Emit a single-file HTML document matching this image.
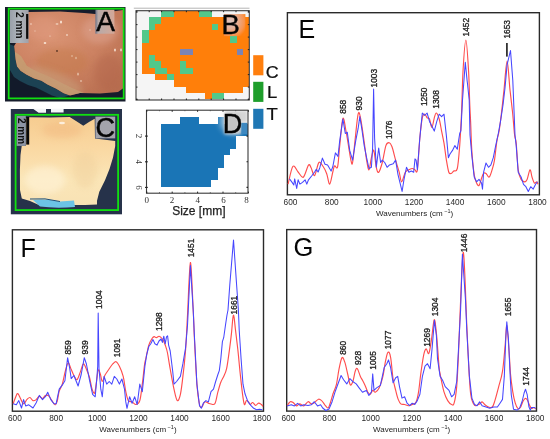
<!DOCTYPE html>
<html><head><meta charset="utf-8"><title>Figure</title>
<style>html,body{margin:0;padding:0;background:#fff;width:550px;height:439px;overflow:hidden}svg{display:block}</style>
</head><body>
<svg width="550" height="439" viewBox="0 0 550 439">
<defs>
<radialGradient id="gA" cx="0.35" cy="0.3" r="0.85">
 <stop offset="0" stop-color="#da9474"/>
 <stop offset="0.5" stop-color="#cc8262"/>
 <stop offset="1" stop-color="#b86e50"/>
</radialGradient>
<linearGradient id="gLabA" x1="0" y1="0" x2="1" y2="0">
 <stop offset="0" stop-color="#9aa0aa"/>
 <stop offset="0.5" stop-color="#b0b6bc"/>
 <stop offset="1" stop-color="#a0a0a8"/>
</linearGradient>
<linearGradient id="gLabA2" x1="0" y1="0" x2="1" y2="0">
 <stop offset="0" stop-color="#6a7288"/>
 <stop offset="0.15" stop-color="#b8aaa8"/>
 <stop offset="1" stop-color="#d4a898"/>
</linearGradient>
<linearGradient id="gC" x1="0" y1="0" x2="0" y2="1">
 <stop offset="0" stop-color="#f6cc90"/>
 <stop offset="0.35" stop-color="#fad8a2"/>
 <stop offset="0.7" stop-color="#fbe6b8"/>
 <stop offset="1" stop-color="#f8e2b4"/>
</linearGradient>
<radialGradient id="gB" cx="0.3" cy="0.35" r="0.8">
 <stop offset="0" stop-color="#dcc6c0"/>
 <stop offset="0.4" stop-color="#e6b098"/>
 <stop offset="0.8" stop-color="#f89450"/>
 <stop offset="1" stop-color="#ff8010"/>
</radialGradient>
<filter id="blur15" x="-30%" y="-30%" width="160%" height="160%"><feGaussianBlur stdDeviation="1.5"/></filter>
<filter id="blur3" x="-50%" y="-50%" width="200%" height="200%"><feGaussianBlur stdDeviation="3"/></filter>
<filter id="blur08" x="-10%" y="-10%" width="120%" height="120%"><feGaussianBlur stdDeviation="0.7"/></filter>
<clipPath id="clipTA"><path d="M28,12 L60,11.5 L84,13 L95,14 L123,10 L123.5,88 L118,92 L100,93.5 L80,93 L70,95.5 L63.6,93.3 L56.2,88.8 L47.4,84.4 L41.4,80.7 L34,78.5 L26.6,74.8 L20.7,71.1 L17,66.6 L15.5,59.2 L14.8,51.8 L14.1,45.9 L16,43 L28,42 Z"/></clipPath>
<clipPath id="clipTC"><path d="M28.5,117.2 L50,117.5 L69.7,117 L76,121 L83.3,125.7 L89,122 L94.7,118.8 L95,138.4 L115.2,141 L115.2,146 L113,157.6 L109.5,169 L105,180.3 L99.3,191.7 L97,200.8 L97,204.5 L85,205 L60,205 L37.8,204.5 L30,201 L21.8,198.6 L20,190 L19.9,170 L20.5,155 L21.7,146 L25.8,146 L25.8,118 Z"/></clipPath>
<clipPath id="clipD"><rect x="146.5" y="110.6" width="101.2" height="82.6"/></clipPath>
<radialGradient id="gBglow" cx="0.5" cy="0.5" r="0.5">
 <stop offset="0" stop-color="#ffffff" stop-opacity="0.35"/>
 <stop offset="1" stop-color="#ffffff" stop-opacity="0"/>
</radialGradient>
<radialGradient id="gDglow" cx="0.5" cy="0.5" r="0.5">
 <stop offset="0" stop-color="#d8d8d8" stop-opacity="1"/>
 <stop offset="0.5" stop-color="#dcdcdc" stop-opacity="0.85"/>
 <stop offset="1" stop-color="#e0e0e0" stop-opacity="0"/>
</radialGradient>
</defs>
<g id="photoA">
<rect x="5" y="7" width="120.5" height="94.5" fill="#161c2c"/>
<path d="M8,40 L14.1,45.9 L14.8,51.8 L15.5,59.2 L17,66.6 L20.7,71.1 L26.6,74.8 L34,78.5 L41.4,80.7 L47.4,84.4 L56.2,88.8 L63.6,93.3 L70,95.5 L70,99 L8,99 Z" fill="#121a2a"/>
<path d="M9,44 L14.1,45.9 L14.8,51.8 L15.5,59.2 L17,66.6 L20.7,71.1 L26.6,74.8 L34,78.5 L41.4,80.7 L47.4,84.4 L56.2,88.8 L63.6,93.3 L70,95.5 L60,98 L52,95.5 L43,91 L36,87.5 L28,85 L20,81 L14,77 L10,70 L9,62 Z" fill="#1c4252" filter="url(#blur08)"/>
<path d="M28,12 L60,11.5 L84,13 L95,14 L123,10 L123.5,88 L118,92 L100,93.5 L80,93 L70,95.5 L63.6,93.3 L56.2,88.8 L47.4,84.4 L41.4,80.7 L34,78.5 L26.6,74.8 L20.7,71.1 L17,66.6 L15.5,59.2 L14.8,51.8 L14.1,45.9 L16,43 L28,42 Z" fill="url(#gA)"/>
<g clip-path="url(#clipTA)">
<path d="M14.8,51.8 L15.5,59.2 L17,66.6 L20.7,71.1 L26.6,74.8 L34,78.5 L41.4,80.7 L47.4,84.4 L56.2,88.8 L63.6,93.3 L70,95.5 L84,93 L72,88 L60,82 L48,76 L36,71 L27,66 L21,56 Z" fill="#c4a878" opacity="0.65" filter="url(#blur08)"/>
<ellipse cx="31" cy="24" rx="1.2" ry="0.8" fill="#fff4e8" opacity="0.85"/>
<ellipse cx="57" cy="24" rx="1.5" ry="0.7" fill="#fff4e8" opacity="0.85"/>
<ellipse cx="61" cy="22" rx="1" ry="1.5" fill="#fff4e8" opacity="0.85"/>
<ellipse cx="45" cy="43" rx="1.3" ry="0.9" fill="#fff4e8" opacity="0.85"/>
<ellipse cx="50" cy="36" rx="0.8" ry="0.6" fill="#fff4e8" opacity="0.85"/>
<ellipse cx="67" cy="35" rx="1" ry="0.7" fill="#fff4e8" opacity="0.85"/>
<ellipse cx="72" cy="56" rx="1.2" ry="0.8" fill="#fff4e8" opacity="0.85"/>
<ellipse cx="76" cy="58" rx="0.8" ry="1.2" fill="#fff4e8" opacity="0.85"/>
<ellipse cx="115" cy="50" rx="0.9" ry="1.6" fill="#fff4e8" opacity="0.85"/>
<ellipse cx="121" cy="50" rx="0.8" ry="1.4" fill="#fff4e8" opacity="0.85"/>
<ellipse cx="78" cy="74" rx="0.7" ry="1.6" fill="#fff4e8" opacity="0.85"/>
<ellipse cx="81" cy="81" rx="0.8" ry="0.8" fill="#fff4e8" opacity="0.85"/>
<ellipse cx="35" cy="31" rx="0.7" ry="0.7" fill="#fff4e8" opacity="0.85"/>
<ellipse cx="90" cy="30" rx="0.8" ry="0.8" fill="#fff4e8" opacity="0.85"/>
<circle cx="57" cy="51" r="0.9" fill="#201010"/>
<ellipse cx="42" cy="28" rx="16" ry="12" fill="#e09a80" opacity="0.5" filter="url(#blur3)"/>
<ellipse cx="100" cy="30" rx="18" ry="14" fill="#dca08c" opacity="0.6" filter="url(#blur3)"/>
<ellipse cx="108" cy="72" rx="14" ry="18" fill="#b06448" opacity="0.4" filter="url(#blur3)"/>
<ellipse cx="62" cy="62" rx="26" ry="14" fill="#c47a48" opacity="0.45" filter="url(#blur3)"/>
<ellipse cx="55" cy="80" rx="30" ry="8" fill="#c89c78" opacity="0.6" filter="url(#blur3)" transform="rotate(22 55 80)"/>
</g>
<rect x="10" y="10" width="18.6" height="33" fill="url(#gLabA)"/>
<rect x="26.1" y="14" width="2.2" height="24.8" fill="#0a0a0a"/>
<text transform="translate(16,12) rotate(90)" font-family="'Liberation Sans', sans-serif" font-size="10.2" font-weight="bold" fill="#111">2 mm</text>
<rect x="95.4" y="9.7" width="19" height="24" fill="url(#gLabA2)"/>
<text x="96.3" y="31" font-family="'Liberation Sans', sans-serif" font-size="28" fill="#050505" stroke="#050505" stroke-width="0.5">A</text>
<rect x="8.7" y="8.6" width="115" height="89.8" fill="none" stroke="#10e010" stroke-width="1.8"/>
</g>
<g id="photoC">
<rect x="10.8" y="109" width="111.2" height="105.3" fill="#26324a"/>
<path d="M28.5,117.2 L50,117.5 L69.7,117 L76,121 L83.3,125.7 L89,122 L94.7,118.8 L95,138.4 L115.2,141 L115.2,146 L113,157.6 L109.5,169 L105,180.3 L99.3,191.7 L97,200.8 L97,204.5 L85,205 L60,205 L37.8,204.5 L30,201 L21.8,198.6 L20,190 L19.9,170 L20.5,155 L21.7,146 L25.8,146 L25.8,118 Z" fill="url(#gC)"/>
<g clip-path="url(#clipTC)"><ellipse cx="62" cy="130" rx="20" ry="8" fill="#f2b880" opacity="0.5" filter="url(#blur3)"/>
<ellipse cx="45" cy="180" rx="20" ry="14" fill="#fff4dc" opacity="0.55" filter="url(#blur3)"/>
<ellipse cx="85" cy="170" rx="12" ry="18" fill="#f0d09c" opacity="0.5" filter="url(#blur3)"/>
<ellipse cx="62" cy="123" rx="3" ry="1.2" fill="#fff8f0" opacity="0.8"/></g>
<path d="M33,200 Q45,198.5 60,201.5 L74,200.5 L75,207 Q55,208.5 40,206.5 Z" fill="#6cc4e6"/>
<path d="M30,199 Q45,197.5 60,201.5" stroke="#1e4f7a" stroke-width="1" fill="none"/>
<rect x="16.5" y="115.9" width="9.3" height="30" fill="#8c94a4"/>
<rect x="26.2" y="117" width="3" height="27.6" fill="#080808"/>
<text transform="translate(17.6,118) rotate(90)" font-family="'Liberation Sans', sans-serif" font-size="10" font-weight="bold" fill="#111">2 mm</text>
<rect x="95.4" y="116.6" width="19.8" height="21.8" fill="#a4a4ac"/>
<text x="95.5" y="137.2" font-family="'Liberation Sans', sans-serif" font-size="27" fill="#050505" stroke="#050505" stroke-width="0.5">C</text>
<path d="M33,108.8 L38.6,112.7 L46,112.7 L46,108.8 Z M51,108.8 H63.6 V112.4 H51 Z" fill="#f4f6f8"/>
<rect x="15.6" y="114.8" width="102.5" height="95.3" fill="none" stroke="#10e010" stroke-width="1.8"/>
</g>
<g id="mapB">
<rect x="136" y="10.7" width="113.3" height="89.3" fill="#f5f5f5"/>
<rect x="161.10" y="11.00" width="6.3" height="6.3" fill="#52c88a" shape-rendering="crispEdges"/>
<rect x="167.40" y="11.00" width="6.3" height="6.3" fill="#52c88a" shape-rendering="crispEdges"/>
<rect x="173.70" y="11.00" width="6.3" height="6.3" fill="#ff7f0a" shape-rendering="crispEdges"/>
<rect x="180.00" y="11.00" width="6.3" height="6.3" fill="#ff7f0a" shape-rendering="crispEdges"/>
<rect x="186.30" y="11.00" width="6.3" height="6.3" fill="#ff7f0a" shape-rendering="crispEdges"/>
<rect x="192.60" y="11.00" width="6.3" height="6.3" fill="#ff7f0a" shape-rendering="crispEdges"/>
<rect x="198.90" y="11.00" width="6.3" height="6.3" fill="#52c88a" shape-rendering="crispEdges"/>
<rect x="205.20" y="11.00" width="6.3" height="6.3" fill="#52c88a" shape-rendering="crispEdges"/>
<rect x="148.50" y="17.30" width="6.3" height="6.3" fill="#52c88a" shape-rendering="crispEdges"/>
<rect x="154.80" y="17.30" width="6.3" height="6.3" fill="#52c88a" shape-rendering="crispEdges"/>
<rect x="161.10" y="17.30" width="6.3" height="6.3" fill="#ff7f0a" shape-rendering="crispEdges"/>
<rect x="167.40" y="17.30" width="6.3" height="6.3" fill="#ff7f0a" shape-rendering="crispEdges"/>
<rect x="173.70" y="17.30" width="6.3" height="6.3" fill="#ff7f0a" shape-rendering="crispEdges"/>
<rect x="180.00" y="17.30" width="6.3" height="6.3" fill="#ff7f0a" shape-rendering="crispEdges"/>
<rect x="186.30" y="17.30" width="6.3" height="6.3" fill="#ff7f0a" shape-rendering="crispEdges"/>
<rect x="192.60" y="17.30" width="6.3" height="6.3" fill="#ff7f0a" shape-rendering="crispEdges"/>
<rect x="198.90" y="17.30" width="6.3" height="6.3" fill="#ff7f0a" shape-rendering="crispEdges"/>
<rect x="205.20" y="17.30" width="6.3" height="6.3" fill="#ff7f0a" shape-rendering="crispEdges"/>
<rect x="211.50" y="17.30" width="6.3" height="6.3" fill="#ff7f0a" shape-rendering="crispEdges"/>
<rect x="217.80" y="17.30" width="6.3" height="6.3" fill="#ff7f0a" shape-rendering="crispEdges"/>
<rect x="224.10" y="17.30" width="6.3" height="6.3" fill="#ff7f0a" shape-rendering="crispEdges"/>
<rect x="230.40" y="17.30" width="6.3" height="6.3" fill="#ff7f0a" shape-rendering="crispEdges"/>
<rect x="236.70" y="17.30" width="6.3" height="6.3" fill="#ff7f0a" shape-rendering="crispEdges"/>
<rect x="243.00" y="17.30" width="6.3" height="6.3" fill="#ff7f0a" shape-rendering="crispEdges"/>
<rect x="148.50" y="23.60" width="6.3" height="6.3" fill="#52c88a" shape-rendering="crispEdges"/>
<rect x="154.80" y="23.60" width="6.3" height="6.3" fill="#ff7f0a" shape-rendering="crispEdges"/>
<rect x="161.10" y="23.60" width="6.3" height="6.3" fill="#ff7f0a" shape-rendering="crispEdges"/>
<rect x="167.40" y="23.60" width="6.3" height="6.3" fill="#ff7f0a" shape-rendering="crispEdges"/>
<rect x="173.70" y="23.60" width="6.3" height="6.3" fill="#ff7f0a" shape-rendering="crispEdges"/>
<rect x="180.00" y="23.60" width="6.3" height="6.3" fill="#ff7f0a" shape-rendering="crispEdges"/>
<rect x="186.30" y="23.60" width="6.3" height="6.3" fill="#ff7f0a" shape-rendering="crispEdges"/>
<rect x="192.60" y="23.60" width="6.3" height="6.3" fill="#ff7f0a" shape-rendering="crispEdges"/>
<rect x="198.90" y="23.60" width="6.3" height="6.3" fill="#ff7f0a" shape-rendering="crispEdges"/>
<rect x="205.20" y="23.60" width="6.3" height="6.3" fill="#ff7f0a" shape-rendering="crispEdges"/>
<rect x="211.50" y="23.60" width="6.3" height="6.3" fill="#52c88a" shape-rendering="crispEdges"/>
<rect x="217.80" y="23.60" width="6.3" height="6.3" fill="#ff7f0a" shape-rendering="crispEdges"/>
<rect x="224.10" y="23.60" width="6.3" height="6.3" fill="#ff7f0a" shape-rendering="crispEdges"/>
<rect x="230.40" y="23.60" width="6.3" height="6.3" fill="#ff7f0a" shape-rendering="crispEdges"/>
<rect x="236.70" y="23.60" width="6.3" height="6.3" fill="#ff7f0a" shape-rendering="crispEdges"/>
<rect x="243.00" y="23.60" width="6.3" height="6.3" fill="#ff7f0a" shape-rendering="crispEdges"/>
<rect x="142.20" y="29.90" width="6.3" height="6.3" fill="#52c88a" shape-rendering="crispEdges"/>
<rect x="148.50" y="29.90" width="6.3" height="6.3" fill="#ff7f0a" shape-rendering="crispEdges"/>
<rect x="154.80" y="29.90" width="6.3" height="6.3" fill="#ff7f0a" shape-rendering="crispEdges"/>
<rect x="161.10" y="29.90" width="6.3" height="6.3" fill="#ff7f0a" shape-rendering="crispEdges"/>
<rect x="167.40" y="29.90" width="6.3" height="6.3" fill="#ff7f0a" shape-rendering="crispEdges"/>
<rect x="173.70" y="29.90" width="6.3" height="6.3" fill="#ff7f0a" shape-rendering="crispEdges"/>
<rect x="180.00" y="29.90" width="6.3" height="6.3" fill="#ff7f0a" shape-rendering="crispEdges"/>
<rect x="186.30" y="29.90" width="6.3" height="6.3" fill="#ff7f0a" shape-rendering="crispEdges"/>
<rect x="192.60" y="29.90" width="6.3" height="6.3" fill="#ff7f0a" shape-rendering="crispEdges"/>
<rect x="198.90" y="29.90" width="6.3" height="6.3" fill="#ff7f0a" shape-rendering="crispEdges"/>
<rect x="205.20" y="29.90" width="6.3" height="6.3" fill="#ff7f0a" shape-rendering="crispEdges"/>
<rect x="211.50" y="29.90" width="6.3" height="6.3" fill="#ff7f0a" shape-rendering="crispEdges"/>
<rect x="217.80" y="29.90" width="6.3" height="6.3" fill="#ff7f0a" shape-rendering="crispEdges"/>
<rect x="224.10" y="29.90" width="6.3" height="6.3" fill="#ff7f0a" shape-rendering="crispEdges"/>
<rect x="230.40" y="29.90" width="6.3" height="6.3" fill="#ff7f0a" shape-rendering="crispEdges"/>
<rect x="236.70" y="29.90" width="6.3" height="6.3" fill="#ff7f0a" shape-rendering="crispEdges"/>
<rect x="243.00" y="29.90" width="6.3" height="6.3" fill="#ff7f0a" shape-rendering="crispEdges"/>
<rect x="142.20" y="36.20" width="6.3" height="6.3" fill="#52c88a" shape-rendering="crispEdges"/>
<rect x="148.50" y="36.20" width="6.3" height="6.3" fill="#ff7f0a" shape-rendering="crispEdges"/>
<rect x="154.80" y="36.20" width="6.3" height="6.3" fill="#ff7f0a" shape-rendering="crispEdges"/>
<rect x="161.10" y="36.20" width="6.3" height="6.3" fill="#ff7f0a" shape-rendering="crispEdges"/>
<rect x="167.40" y="36.20" width="6.3" height="6.3" fill="#ff7f0a" shape-rendering="crispEdges"/>
<rect x="173.70" y="36.20" width="6.3" height="6.3" fill="#ff7f0a" shape-rendering="crispEdges"/>
<rect x="180.00" y="36.20" width="6.3" height="6.3" fill="#ff7f0a" shape-rendering="crispEdges"/>
<rect x="186.30" y="36.20" width="6.3" height="6.3" fill="#ff7f0a" shape-rendering="crispEdges"/>
<rect x="192.60" y="36.20" width="6.3" height="6.3" fill="#ff7f0a" shape-rendering="crispEdges"/>
<rect x="198.90" y="36.20" width="6.3" height="6.3" fill="#ff7f0a" shape-rendering="crispEdges"/>
<rect x="205.20" y="36.20" width="6.3" height="6.3" fill="#ff7f0a" shape-rendering="crispEdges"/>
<rect x="211.50" y="36.20" width="6.3" height="6.3" fill="#ff7f0a" shape-rendering="crispEdges"/>
<rect x="217.80" y="36.20" width="6.3" height="6.3" fill="#ff7f0a" shape-rendering="crispEdges"/>
<rect x="224.10" y="36.20" width="6.3" height="6.3" fill="#ff7f0a" shape-rendering="crispEdges"/>
<rect x="230.40" y="36.20" width="6.3" height="6.3" fill="#52c88a" shape-rendering="crispEdges"/>
<rect x="236.70" y="36.20" width="6.3" height="6.3" fill="#ff7f0a" shape-rendering="crispEdges"/>
<rect x="243.00" y="36.20" width="6.3" height="6.3" fill="#ff7f0a" shape-rendering="crispEdges"/>
<rect x="142.20" y="42.50" width="6.3" height="6.3" fill="#ff7f0a" shape-rendering="crispEdges"/>
<rect x="148.50" y="42.50" width="6.3" height="6.3" fill="#ff7f0a" shape-rendering="crispEdges"/>
<rect x="154.80" y="42.50" width="6.3" height="6.3" fill="#ff7f0a" shape-rendering="crispEdges"/>
<rect x="161.10" y="42.50" width="6.3" height="6.3" fill="#ff7f0a" shape-rendering="crispEdges"/>
<rect x="167.40" y="42.50" width="6.3" height="6.3" fill="#ff7f0a" shape-rendering="crispEdges"/>
<rect x="173.70" y="42.50" width="6.3" height="6.3" fill="#ff7f0a" shape-rendering="crispEdges"/>
<rect x="180.00" y="42.50" width="6.3" height="6.3" fill="#ff7f0a" shape-rendering="crispEdges"/>
<rect x="186.30" y="42.50" width="6.3" height="6.3" fill="#ff7f0a" shape-rendering="crispEdges"/>
<rect x="192.60" y="42.50" width="6.3" height="6.3" fill="#ff7f0a" shape-rendering="crispEdges"/>
<rect x="198.90" y="42.50" width="6.3" height="6.3" fill="#ff7f0a" shape-rendering="crispEdges"/>
<rect x="205.20" y="42.50" width="6.3" height="6.3" fill="#ff7f0a" shape-rendering="crispEdges"/>
<rect x="211.50" y="42.50" width="6.3" height="6.3" fill="#ff7f0a" shape-rendering="crispEdges"/>
<rect x="217.80" y="42.50" width="6.3" height="6.3" fill="#ff7f0a" shape-rendering="crispEdges"/>
<rect x="224.10" y="42.50" width="6.3" height="6.3" fill="#ff7f0a" shape-rendering="crispEdges"/>
<rect x="230.40" y="42.50" width="6.3" height="6.3" fill="#ff7f0a" shape-rendering="crispEdges"/>
<rect x="236.70" y="42.50" width="6.3" height="6.3" fill="#ff7f0a" shape-rendering="crispEdges"/>
<rect x="243.00" y="42.50" width="6.3" height="6.3" fill="#ff7f0a" shape-rendering="crispEdges"/>
<rect x="142.20" y="48.80" width="6.3" height="6.3" fill="#ff7f0a" shape-rendering="crispEdges"/>
<rect x="148.50" y="48.80" width="6.3" height="6.3" fill="#ff7f0a" shape-rendering="crispEdges"/>
<rect x="154.80" y="48.80" width="6.3" height="6.3" fill="#ff7f0a" shape-rendering="crispEdges"/>
<rect x="161.10" y="48.80" width="6.3" height="6.3" fill="#ff7f0a" shape-rendering="crispEdges"/>
<rect x="167.40" y="48.80" width="6.3" height="6.3" fill="#ff7f0a" shape-rendering="crispEdges"/>
<rect x="173.70" y="48.80" width="6.3" height="6.3" fill="#ff7f0a" shape-rendering="crispEdges"/>
<rect x="180.00" y="48.80" width="6.3" height="6.3" fill="#7b84b5" shape-rendering="crispEdges"/>
<rect x="186.30" y="48.80" width="6.3" height="6.3" fill="#7b84b5" shape-rendering="crispEdges"/>
<rect x="192.60" y="48.80" width="6.3" height="6.3" fill="#ff7f0a" shape-rendering="crispEdges"/>
<rect x="198.90" y="48.80" width="6.3" height="6.3" fill="#ff7f0a" shape-rendering="crispEdges"/>
<rect x="205.20" y="48.80" width="6.3" height="6.3" fill="#ff7f0a" shape-rendering="crispEdges"/>
<rect x="211.50" y="48.80" width="6.3" height="6.3" fill="#ff7f0a" shape-rendering="crispEdges"/>
<rect x="217.80" y="48.80" width="6.3" height="6.3" fill="#ff7f0a" shape-rendering="crispEdges"/>
<rect x="224.10" y="48.80" width="6.3" height="6.3" fill="#ff7f0a" shape-rendering="crispEdges"/>
<rect x="230.40" y="48.80" width="6.3" height="6.3" fill="#ff7f0a" shape-rendering="crispEdges"/>
<rect x="236.70" y="48.80" width="6.3" height="6.3" fill="#7b84b5" shape-rendering="crispEdges"/>
<rect x="243.00" y="48.80" width="6.3" height="6.3" fill="#ff7f0a" shape-rendering="crispEdges"/>
<rect x="142.20" y="55.10" width="6.3" height="6.3" fill="#ff7f0a" shape-rendering="crispEdges"/>
<rect x="148.50" y="55.10" width="6.3" height="6.3" fill="#52c88a" shape-rendering="crispEdges"/>
<rect x="154.80" y="55.10" width="6.3" height="6.3" fill="#ff7f0a" shape-rendering="crispEdges"/>
<rect x="161.10" y="55.10" width="6.3" height="6.3" fill="#ff7f0a" shape-rendering="crispEdges"/>
<rect x="167.40" y="55.10" width="6.3" height="6.3" fill="#ff7f0a" shape-rendering="crispEdges"/>
<rect x="173.70" y="55.10" width="6.3" height="6.3" fill="#ff7f0a" shape-rendering="crispEdges"/>
<rect x="180.00" y="55.10" width="6.3" height="6.3" fill="#ff7f0a" shape-rendering="crispEdges"/>
<rect x="186.30" y="55.10" width="6.3" height="6.3" fill="#ff7f0a" shape-rendering="crispEdges"/>
<rect x="192.60" y="55.10" width="6.3" height="6.3" fill="#ff7f0a" shape-rendering="crispEdges"/>
<rect x="198.90" y="55.10" width="6.3" height="6.3" fill="#ff7f0a" shape-rendering="crispEdges"/>
<rect x="205.20" y="55.10" width="6.3" height="6.3" fill="#ff7f0a" shape-rendering="crispEdges"/>
<rect x="211.50" y="55.10" width="6.3" height="6.3" fill="#ff7f0a" shape-rendering="crispEdges"/>
<rect x="217.80" y="55.10" width="6.3" height="6.3" fill="#ff7f0a" shape-rendering="crispEdges"/>
<rect x="224.10" y="55.10" width="6.3" height="6.3" fill="#ff7f0a" shape-rendering="crispEdges"/>
<rect x="230.40" y="55.10" width="6.3" height="6.3" fill="#ff7f0a" shape-rendering="crispEdges"/>
<rect x="236.70" y="55.10" width="6.3" height="6.3" fill="#ff7f0a" shape-rendering="crispEdges"/>
<rect x="243.00" y="55.10" width="6.3" height="6.3" fill="#ff7f0a" shape-rendering="crispEdges"/>
<rect x="142.20" y="61.40" width="6.3" height="6.3" fill="#ff7f0a" shape-rendering="crispEdges"/>
<rect x="148.50" y="61.40" width="6.3" height="6.3" fill="#52c88a" shape-rendering="crispEdges"/>
<rect x="154.80" y="61.40" width="6.3" height="6.3" fill="#52c88a" shape-rendering="crispEdges"/>
<rect x="161.10" y="61.40" width="6.3" height="6.3" fill="#ff7f0a" shape-rendering="crispEdges"/>
<rect x="167.40" y="61.40" width="6.3" height="6.3" fill="#ff7f0a" shape-rendering="crispEdges"/>
<rect x="173.70" y="61.40" width="6.3" height="6.3" fill="#ff7f0a" shape-rendering="crispEdges"/>
<rect x="180.00" y="61.40" width="6.3" height="6.3" fill="#52c88a" shape-rendering="crispEdges"/>
<rect x="186.30" y="61.40" width="6.3" height="6.3" fill="#ff7f0a" shape-rendering="crispEdges"/>
<rect x="192.60" y="61.40" width="6.3" height="6.3" fill="#ff7f0a" shape-rendering="crispEdges"/>
<rect x="198.90" y="61.40" width="6.3" height="6.3" fill="#ff7f0a" shape-rendering="crispEdges"/>
<rect x="205.20" y="61.40" width="6.3" height="6.3" fill="#ff7f0a" shape-rendering="crispEdges"/>
<rect x="211.50" y="61.40" width="6.3" height="6.3" fill="#ff7f0a" shape-rendering="crispEdges"/>
<rect x="217.80" y="61.40" width="6.3" height="6.3" fill="#ff7f0a" shape-rendering="crispEdges"/>
<rect x="224.10" y="61.40" width="6.3" height="6.3" fill="#ff7f0a" shape-rendering="crispEdges"/>
<rect x="230.40" y="61.40" width="6.3" height="6.3" fill="#ff7f0a" shape-rendering="crispEdges"/>
<rect x="236.70" y="61.40" width="6.3" height="6.3" fill="#ff7f0a" shape-rendering="crispEdges"/>
<rect x="243.00" y="61.40" width="6.3" height="6.3" fill="#ff7f0a" shape-rendering="crispEdges"/>
<rect x="142.20" y="67.70" width="6.3" height="6.3" fill="#ff7f0a" shape-rendering="crispEdges"/>
<rect x="148.50" y="67.70" width="6.3" height="6.3" fill="#ff7f0a" shape-rendering="crispEdges"/>
<rect x="154.80" y="67.70" width="6.3" height="6.3" fill="#52c88a" shape-rendering="crispEdges"/>
<rect x="161.10" y="67.70" width="6.3" height="6.3" fill="#52c88a" shape-rendering="crispEdges"/>
<rect x="167.40" y="67.70" width="6.3" height="6.3" fill="#ff7f0a" shape-rendering="crispEdges"/>
<rect x="173.70" y="67.70" width="6.3" height="6.3" fill="#ff7f0a" shape-rendering="crispEdges"/>
<rect x="180.00" y="67.70" width="6.3" height="6.3" fill="#52c88a" shape-rendering="crispEdges"/>
<rect x="186.30" y="67.70" width="6.3" height="6.3" fill="#52c88a" shape-rendering="crispEdges"/>
<rect x="192.60" y="67.70" width="6.3" height="6.3" fill="#ff7f0a" shape-rendering="crispEdges"/>
<rect x="198.90" y="67.70" width="6.3" height="6.3" fill="#ff7f0a" shape-rendering="crispEdges"/>
<rect x="205.20" y="67.70" width="6.3" height="6.3" fill="#ff7f0a" shape-rendering="crispEdges"/>
<rect x="211.50" y="67.70" width="6.3" height="6.3" fill="#ff7f0a" shape-rendering="crispEdges"/>
<rect x="217.80" y="67.70" width="6.3" height="6.3" fill="#ff7f0a" shape-rendering="crispEdges"/>
<rect x="224.10" y="67.70" width="6.3" height="6.3" fill="#ff7f0a" shape-rendering="crispEdges"/>
<rect x="230.40" y="67.70" width="6.3" height="6.3" fill="#ff7f0a" shape-rendering="crispEdges"/>
<rect x="236.70" y="67.70" width="6.3" height="6.3" fill="#ff7f0a" shape-rendering="crispEdges"/>
<rect x="243.00" y="67.70" width="6.3" height="6.3" fill="#ff7f0a" shape-rendering="crispEdges"/>
<rect x="154.80" y="74.00" width="6.3" height="6.3" fill="#ff7f0a" shape-rendering="crispEdges"/>
<rect x="161.10" y="74.00" width="6.3" height="6.3" fill="#ff7f0a" shape-rendering="crispEdges"/>
<rect x="167.40" y="74.00" width="6.3" height="6.3" fill="#52c88a" shape-rendering="crispEdges"/>
<rect x="173.70" y="74.00" width="6.3" height="6.3" fill="#ff7f0a" shape-rendering="crispEdges"/>
<rect x="180.00" y="74.00" width="6.3" height="6.3" fill="#ff7f0a" shape-rendering="crispEdges"/>
<rect x="186.30" y="74.00" width="6.3" height="6.3" fill="#ff7f0a" shape-rendering="crispEdges"/>
<rect x="192.60" y="74.00" width="6.3" height="6.3" fill="#ff7f0a" shape-rendering="crispEdges"/>
<rect x="198.90" y="74.00" width="6.3" height="6.3" fill="#ff7f0a" shape-rendering="crispEdges"/>
<rect x="205.20" y="74.00" width="6.3" height="6.3" fill="#ff7f0a" shape-rendering="crispEdges"/>
<rect x="211.50" y="74.00" width="6.3" height="6.3" fill="#ff7f0a" shape-rendering="crispEdges"/>
<rect x="217.80" y="74.00" width="6.3" height="6.3" fill="#ff7f0a" shape-rendering="crispEdges"/>
<rect x="224.10" y="74.00" width="6.3" height="6.3" fill="#ff7f0a" shape-rendering="crispEdges"/>
<rect x="230.40" y="74.00" width="6.3" height="6.3" fill="#ff7f0a" shape-rendering="crispEdges"/>
<rect x="236.70" y="74.00" width="6.3" height="6.3" fill="#ff7f0a" shape-rendering="crispEdges"/>
<rect x="243.00" y="74.00" width="6.3" height="6.3" fill="#ff7f0a" shape-rendering="crispEdges"/>
<rect x="173.70" y="80.30" width="6.3" height="6.3" fill="#ff7f0a" shape-rendering="crispEdges"/>
<rect x="180.00" y="80.30" width="6.3" height="6.3" fill="#ff7f0a" shape-rendering="crispEdges"/>
<rect x="186.30" y="80.30" width="6.3" height="6.3" fill="#ff7f0a" shape-rendering="crispEdges"/>
<rect x="192.60" y="80.30" width="6.3" height="6.3" fill="#ff7f0a" shape-rendering="crispEdges"/>
<rect x="198.90" y="80.30" width="6.3" height="6.3" fill="#ff7f0a" shape-rendering="crispEdges"/>
<rect x="205.20" y="80.30" width="6.3" height="6.3" fill="#ff7f0a" shape-rendering="crispEdges"/>
<rect x="211.50" y="80.30" width="6.3" height="6.3" fill="#ff7f0a" shape-rendering="crispEdges"/>
<rect x="217.80" y="80.30" width="6.3" height="6.3" fill="#ff7f0a" shape-rendering="crispEdges"/>
<rect x="224.10" y="80.30" width="6.3" height="6.3" fill="#ff7f0a" shape-rendering="crispEdges"/>
<rect x="230.40" y="80.30" width="6.3" height="6.3" fill="#ff7f0a" shape-rendering="crispEdges"/>
<rect x="236.70" y="80.30" width="6.3" height="6.3" fill="#ff7f0a" shape-rendering="crispEdges"/>
<rect x="243.00" y="80.30" width="6.3" height="6.3" fill="#ff7f0a" shape-rendering="crispEdges"/>
<rect x="186.30" y="86.60" width="6.3" height="6.3" fill="#ff7f0a" shape-rendering="crispEdges"/>
<rect x="192.60" y="86.60" width="6.3" height="6.3" fill="#ff7f0a" shape-rendering="crispEdges"/>
<rect x="198.90" y="86.60" width="6.3" height="6.3" fill="#ff7f0a" shape-rendering="crispEdges"/>
<rect x="205.20" y="86.60" width="6.3" height="6.3" fill="#ff7f0a" shape-rendering="crispEdges"/>
<rect x="211.50" y="86.60" width="6.3" height="6.3" fill="#ff7f0a" shape-rendering="crispEdges"/>
<rect x="217.80" y="86.60" width="6.3" height="6.3" fill="#ff7f0a" shape-rendering="crispEdges"/>
<rect x="224.10" y="86.60" width="6.3" height="6.3" fill="#ff7f0a" shape-rendering="crispEdges"/>
<rect x="230.40" y="86.60" width="6.3" height="6.3" fill="#ff7f0a" shape-rendering="crispEdges"/>
<rect x="236.70" y="86.60" width="6.3" height="6.3" fill="#ff7f0a" shape-rendering="crispEdges"/>
<rect x="205.20" y="92.90" width="6.3" height="6.3" fill="#ff7f0a" shape-rendering="crispEdges"/>
<rect x="211.50" y="92.90" width="6.3" height="6.3" fill="#52c88a" shape-rendering="crispEdges"/>
<rect x="217.80" y="92.90" width="6.3" height="6.3" fill="#52c88a" shape-rendering="crispEdges"/>
<rect x="224" y="14.1" width="21.4" height="22" fill="url(#gB)"/>
<text x="221.6" y="34" font-family="'Liberation Sans', sans-serif" font-size="27.5" fill="#050505" stroke="#050505" stroke-width="0.4">B</text>
<line x1="133.8" y1="8.2" x2="249.5" y2="8.2" stroke="#b4b4b4" stroke-width="1"/>
<rect x="136" y="10.7" width="113.3" height="89.3" fill="none" stroke="#3a3a3a" stroke-width="1.1"/>
<line x1="136.8" y1="10.7" x2="136.8" y2="12.2" stroke="#222" stroke-width="1"/>
<line x1="136.8" y1="100" x2="136.8" y2="98.5" stroke="#222" stroke-width="1"/>
<line x1="149.2" y1="10.7" x2="149.2" y2="12.2" stroke="#222" stroke-width="1"/>
<line x1="149.2" y1="100" x2="149.2" y2="98.5" stroke="#222" stroke-width="1"/>
<line x1="161.6" y1="10.7" x2="161.6" y2="12.2" stroke="#222" stroke-width="1"/>
<line x1="161.6" y1="100" x2="161.6" y2="98.5" stroke="#222" stroke-width="1"/>
<line x1="174.0" y1="10.7" x2="174.0" y2="12.2" stroke="#222" stroke-width="1"/>
<line x1="174.0" y1="100" x2="174.0" y2="98.5" stroke="#222" stroke-width="1"/>
<line x1="186.4" y1="10.7" x2="186.4" y2="12.2" stroke="#222" stroke-width="1"/>
<line x1="186.4" y1="100" x2="186.4" y2="98.5" stroke="#222" stroke-width="1"/>
<line x1="198.8" y1="10.7" x2="198.8" y2="12.2" stroke="#222" stroke-width="1"/>
<line x1="198.8" y1="100" x2="198.8" y2="98.5" stroke="#222" stroke-width="1"/>
<line x1="211.2" y1="10.7" x2="211.2" y2="12.2" stroke="#222" stroke-width="1"/>
<line x1="211.2" y1="100" x2="211.2" y2="98.5" stroke="#222" stroke-width="1"/>
<line x1="223.6" y1="10.7" x2="223.6" y2="12.2" stroke="#222" stroke-width="1"/>
<line x1="223.6" y1="100" x2="223.6" y2="98.5" stroke="#222" stroke-width="1"/>
<line x1="236.0" y1="10.7" x2="236.0" y2="12.2" stroke="#222" stroke-width="1"/>
<line x1="236.0" y1="100" x2="236.0" y2="98.5" stroke="#222" stroke-width="1"/>
<line x1="248.4" y1="10.7" x2="248.4" y2="12.2" stroke="#222" stroke-width="1"/>
<line x1="248.4" y1="100" x2="248.4" y2="98.5" stroke="#222" stroke-width="1"/>
<line x1="136" y1="12.1" x2="137.5" y2="12.1" stroke="#222" stroke-width="1"/>
<line x1="249.3" y1="12.1" x2="247.8" y2="12.1" stroke="#222" stroke-width="1"/>
<line x1="136" y1="24.6" x2="137.5" y2="24.6" stroke="#222" stroke-width="1"/>
<line x1="249.3" y1="24.6" x2="247.8" y2="24.6" stroke="#222" stroke-width="1"/>
<line x1="136" y1="37.1" x2="137.5" y2="37.1" stroke="#222" stroke-width="1"/>
<line x1="249.3" y1="37.1" x2="247.8" y2="37.1" stroke="#222" stroke-width="1"/>
<line x1="136" y1="49.6" x2="137.5" y2="49.6" stroke="#222" stroke-width="1"/>
<line x1="249.3" y1="49.6" x2="247.8" y2="49.6" stroke="#222" stroke-width="1"/>
<line x1="136" y1="62.1" x2="137.5" y2="62.1" stroke="#222" stroke-width="1"/>
<line x1="249.3" y1="62.1" x2="247.8" y2="62.1" stroke="#222" stroke-width="1"/>
<line x1="136" y1="74.6" x2="137.5" y2="74.6" stroke="#222" stroke-width="1"/>
<line x1="249.3" y1="74.6" x2="247.8" y2="74.6" stroke="#222" stroke-width="1"/>
<line x1="136" y1="87.1" x2="137.5" y2="87.1" stroke="#222" stroke-width="1"/>
<line x1="249.3" y1="87.1" x2="247.8" y2="87.1" stroke="#222" stroke-width="1"/>
<line x1="136" y1="99.6" x2="137.5" y2="99.6" stroke="#222" stroke-width="1"/>
<line x1="249.3" y1="99.6" x2="247.8" y2="99.6" stroke="#222" stroke-width="1"/>
</g>
<g id="legend">
<rect x="253.2" y="55.2" width="10.2" height="20.1" fill="#ff7f0e"/>
<rect x="253.2" y="81.8" width="10.2" height="20.1" fill="#1f9e2c"/>
<rect x="253.2" y="108.8" width="10.2" height="20" fill="#1f77b4"/>
<text transform="translate(265.7,78.4) scale(1.12,1)" font-family="'Liberation Sans', sans-serif" font-size="16" fill="#111" stroke="#111" stroke-width="0.25">C</text>
<text transform="translate(267.1,97.6) scale(1.12,1)" font-family="'Liberation Sans', sans-serif" font-size="16.5" fill="#111" stroke="#111" stroke-width="0.25">L</text>
<text transform="translate(266.5,119.6) scale(1.12,1)" font-family="'Liberation Sans', sans-serif" font-size="16.5" fill="#111" stroke="#111" stroke-width="0.25">T</text>
</g>
<g id="mapD">
<rect x="146.5" y="110.2" width="101.5" height="83" fill="#ffffff"/>
<rect x="179.70" y="117.30" width="18.90" height="6.3" fill="#1a75b6" shape-rendering="crispEdges"/>
<rect x="217.50" y="117.30" width="6.30" height="6.3" fill="#1a75b6" shape-rendering="crispEdges"/>
<rect x="160.80" y="123.60" width="86.80" height="6.3" fill="#1a75b6" shape-rendering="crispEdges"/>
<rect x="160.80" y="129.90" width="86.80" height="6.3" fill="#1a75b6" shape-rendering="crispEdges"/>
<rect x="160.80" y="136.20" width="75.60" height="6.3" fill="#1a75b6" shape-rendering="crispEdges"/>
<rect x="160.80" y="142.50" width="75.60" height="6.3" fill="#1a75b6" shape-rendering="crispEdges"/>
<rect x="160.80" y="148.80" width="69.30" height="6.3" fill="#1a75b6" shape-rendering="crispEdges"/>
<rect x="160.80" y="155.10" width="63.00" height="6.3" fill="#1a75b6" shape-rendering="crispEdges"/>
<rect x="160.80" y="161.40" width="63.00" height="6.3" fill="#1a75b6" shape-rendering="crispEdges"/>
<rect x="160.80" y="167.70" width="56.70" height="6.3" fill="#1a75b6" shape-rendering="crispEdges"/>
<rect x="160.80" y="174.00" width="56.70" height="6.3" fill="#1a75b6" shape-rendering="crispEdges"/>
<rect x="160.80" y="180.30" width="50.40" height="6.3" fill="#1a75b6" shape-rendering="crispEdges"/>
<g clip-path="url(#clipD)">
<ellipse cx="233" cy="121" rx="13" ry="13" fill="#ffffff" opacity="0.55" filter="url(#blur3)"/>
<path d="M224.5,110.6 H247.7 V122.5 H241 V134 H224.5 Z" fill="#d6d6d6" filter="url(#blur15)"/>
<rect x="227" y="114" width="12" height="18" fill="#c4c4c4" filter="url(#blur15)"/>
<rect x="241.4" y="122.8" width="6.3" height="11.2" fill="#3d88c0"/>
</g>
<text x="222.8" y="133.4" font-family="'Liberation Sans', sans-serif" font-size="27" fill="#050505" stroke="#050505" stroke-width="0.5">D</text>
<rect x="146.5" y="110.2" width="101.5" height="83" fill="none" stroke="#3a3a3a" stroke-width="1.1"/>
<line x1="146.8" y1="193.2" x2="146.8" y2="191.6" stroke="#222" stroke-width="1"/>
<line x1="146.8" y1="110.2" x2="146.8" y2="111.8" stroke="#222" stroke-width="1"/>
<line x1="172.2" y1="193.2" x2="172.2" y2="191.6" stroke="#222" stroke-width="1"/>
<line x1="172.2" y1="110.2" x2="172.2" y2="111.8" stroke="#222" stroke-width="1"/>
<line x1="197.6" y1="193.2" x2="197.6" y2="191.6" stroke="#222" stroke-width="1"/>
<line x1="197.6" y1="110.2" x2="197.6" y2="111.8" stroke="#222" stroke-width="1"/>
<line x1="223.0" y1="193.2" x2="223.0" y2="191.6" stroke="#222" stroke-width="1"/>
<line x1="223.0" y1="110.2" x2="223.0" y2="111.8" stroke="#222" stroke-width="1"/>
<line x1="248.4" y1="193.2" x2="248.4" y2="191.6" stroke="#222" stroke-width="1"/>
<line x1="248.4" y1="110.2" x2="248.4" y2="111.8" stroke="#222" stroke-width="1"/>
<line x1="159.5" y1="193.2" x2="159.5" y2="192.2" stroke="#444" stroke-width="0.8"/>
<line x1="159.5" y1="110.2" x2="159.5" y2="111.2" stroke="#444" stroke-width="0.8"/>
<line x1="184.9" y1="193.2" x2="184.9" y2="192.2" stroke="#444" stroke-width="0.8"/>
<line x1="184.9" y1="110.2" x2="184.9" y2="111.2" stroke="#444" stroke-width="0.8"/>
<line x1="210.3" y1="193.2" x2="210.3" y2="192.2" stroke="#444" stroke-width="0.8"/>
<line x1="210.3" y1="110.2" x2="210.3" y2="111.2" stroke="#444" stroke-width="0.8"/>
<line x1="235.7" y1="193.2" x2="235.7" y2="192.2" stroke="#444" stroke-width="0.8"/>
<line x1="235.7" y1="110.2" x2="235.7" y2="111.2" stroke="#444" stroke-width="0.8"/>
<line x1="145" y1="136.1" x2="147.8" y2="136.1" stroke="#222" stroke-width="1.1"/>
<line x1="248" y1="136.1" x2="246.5" y2="136.1" stroke="#222" stroke-width="1.1"/>
<text transform="translate(136.1,136.1) rotate(90)" text-anchor="middle" font-family="'Liberation Serif', serif" font-size="9" fill="#333">2</text>
<line x1="145" y1="161.8" x2="147.8" y2="161.8" stroke="#222" stroke-width="1.1"/>
<line x1="248" y1="161.8" x2="246.5" y2="161.8" stroke="#222" stroke-width="1.1"/>
<text transform="translate(136.1,161.8) rotate(90)" text-anchor="middle" font-family="'Liberation Serif', serif" font-size="9" fill="#333">4</text>
<line x1="145" y1="187.4" x2="147.8" y2="187.4" stroke="#222" stroke-width="1.1"/>
<line x1="248" y1="187.4" x2="246.5" y2="187.4" stroke="#222" stroke-width="1.1"/>
<text transform="translate(136.1,187.4) rotate(90)" text-anchor="middle" font-family="'Liberation Serif', serif" font-size="9" fill="#333">6</text>
<text x="146.8" y="202.9" text-anchor="middle" font-family="'Liberation Serif', serif" font-size="9" fill="#333">0</text>
<text x="172.1" y="202.9" text-anchor="middle" font-family="'Liberation Serif', serif" font-size="9" fill="#333">2</text>
<text x="197.8" y="202.9" text-anchor="middle" font-family="'Liberation Serif', serif" font-size="9" fill="#333">4</text>
<text x="223.5" y="202.9" text-anchor="middle" font-family="'Liberation Serif', serif" font-size="9" fill="#333">6</text>
<text x="246.5" y="202.9" text-anchor="middle" font-family="'Liberation Serif', serif" font-size="9" fill="#333">8</text>
<text x="198.8" y="215.2" text-anchor="middle" font-family="'Liberation Sans', sans-serif" font-size="12" fill="#222" stroke="#222" stroke-width="0.25">Size [mm]</text>
</g>
<g id="E">
<rect x="287.4" y="12.7" width="252.0" height="182.10000000000002" fill="#fff" stroke="#2a2a2a" stroke-width="1.4"/>
<path d="M288.1,184.1 C288.9,181.2 291.2,168.4 292.9,166.4 C294.6,164.4 296.4,170.2 298.1,172.0 C299.8,173.8 301.6,178.3 303.3,177.2 C305.0,176.0 307.2,166.7 308.5,165.1 C309.8,163.5 310.1,166.0 311.1,167.7 C312.1,169.4 313.3,176.4 314.6,175.5 C315.9,174.6 317.4,163.9 318.9,162.5 C320.3,161.1 322.0,164.9 323.3,166.8 C324.6,168.7 325.6,170.8 326.7,173.7 C327.8,176.6 328.7,184.4 329.7,184.1 C330.7,183.8 332.0,175.0 332.8,172.0 C333.6,169.0 333.7,166.8 334.5,165.9 C335.3,165.0 336.7,170.1 337.6,166.8 C338.5,163.5 338.8,154.1 339.7,146.0 C340.6,137.9 341.8,121.0 342.9,118.5 C343.9,116.0 345.3,127.8 346.0,131.1 C346.7,134.4 346.5,133.5 347.3,138.3 C348.1,143.1 350.0,156.1 350.9,160.1 C351.8,164.1 351.9,165.7 352.6,162.5 C353.3,159.3 354.1,148.9 355.0,140.8 C355.9,132.8 357.2,118.0 358.1,114.2 C359.0,110.4 359.5,113.2 360.5,117.8 C361.5,122.4 363.2,134.9 364.2,142.0 C365.2,149.1 365.8,155.5 366.6,160.1 C367.4,164.7 368.2,170.2 369.0,169.8 C369.8,169.4 370.6,160.9 371.4,157.7 C372.2,154.5 373.0,148.8 373.8,150.4 C374.6,152.0 375.5,163.7 376.3,167.3 C377.1,170.9 377.7,173.0 378.7,172.2 C379.7,171.4 381.1,166.9 382.3,162.5 C383.5,158.1 384.7,148.9 385.9,145.6 C387.1,142.3 388.3,142.5 389.3,142.7 C390.3,142.9 390.9,143.9 392.0,146.8 C393.1,149.7 394.4,155.9 395.6,160.1 C396.8,164.3 398.2,168.6 399.2,172.2 C400.2,175.8 400.6,181.8 401.6,181.8 C402.6,181.8 404.1,174.2 405.3,172.2 C406.5,170.2 407.7,170.4 408.9,169.8 C410.1,169.2 411.5,168.5 412.5,168.5 C413.5,168.5 414.2,169.6 415.0,169.8 C415.8,170.0 416.6,175.1 417.4,169.8 C418.2,164.6 419.0,147.0 419.8,138.3 C420.6,129.6 421.5,121.8 422.3,117.8 C423.1,113.8 423.9,114.2 424.7,114.2 C425.5,114.2 426.3,117.0 427.1,117.8 C427.9,118.6 428.7,117.4 429.5,119.0 C430.3,120.6 431.1,127.7 431.9,127.5 C432.7,127.3 433.6,120.2 434.3,117.8 C435.0,115.4 435.5,112.8 436.3,113.0 C437.1,113.2 438.3,116.0 439.2,119.0 C440.1,122.0 440.8,127.1 441.6,131.1 C442.4,135.1 443.2,138.4 444.0,143.2 C444.8,148.0 445.6,155.3 446.4,160.1 C447.2,164.9 448.0,170.0 448.8,172.2 C449.6,174.4 450.5,173.6 451.3,173.4 C452.1,173.2 452.7,171.8 453.7,171.0 C454.7,170.2 456.3,172.7 457.3,168.5 C458.3,164.3 459.0,154.7 459.7,145.6 C460.4,136.5 460.9,126.3 461.5,114.0 C462.1,101.7 462.3,83.8 463.0,71.5 C463.7,59.2 465.0,40.0 465.9,40.0 C466.8,40.0 468.0,61.5 468.6,71.5 C469.2,81.5 469.3,91.7 469.6,100.0 C469.9,108.3 470.2,113.0 470.6,121.4 C471.0,129.8 471.2,141.5 471.8,150.4 C472.4,159.3 473.4,169.2 474.2,174.6 C475.0,180.0 475.8,181.2 476.6,183.0 C477.4,184.8 478.2,186.2 479.0,185.5 C479.8,184.8 480.6,181.0 481.3,179.0 C482.1,177.0 482.7,174.3 483.5,173.4 C484.3,172.5 485.1,172.8 486.0,173.4 C486.9,174.0 488.2,177.6 489.2,177.0 C490.2,176.4 491.2,172.6 492.1,169.8 C493.0,167.0 493.7,164.9 494.5,160.1 C495.3,155.3 496.1,145.8 496.9,140.8 C497.7,135.8 498.5,135.2 499.3,130.0 C500.1,124.8 501.1,116.0 501.9,109.3 C502.7,102.6 503.1,98.0 504.0,90.0 C504.9,82.0 506.1,61.2 507.1,61.2 C508.1,61.2 509.1,81.6 510.0,90.0 C510.9,98.4 511.7,104.2 512.5,111.7 C513.3,119.2 514.0,129.8 514.6,135.0 C515.2,140.2 515.6,137.4 516.2,143.2 C516.8,149.0 517.4,163.8 518.2,169.8 C519.0,175.8 520.0,177.4 521.1,179.4 C522.2,181.4 523.7,181.8 524.7,181.8 C525.7,181.8 526.2,181.4 527.1,179.4 C528.0,177.4 529.2,170.2 530.0,169.8 C530.8,169.4 531.3,174.8 532.0,177.0 C532.7,179.2 533.6,182.2 534.4,183.0 C535.2,183.8 536.2,181.6 536.8,181.8 C537.4,182.0 537.8,183.9 538.0,184.3" fill="none" stroke="#ff4d4d" stroke-width="1.15" stroke-linejoin="round"/>
<polyline points="289.5,178.9 292.1,182.4 293.8,185.0 294.7,178.9 296.7,188.5 298.1,179.8 299.9,184.1 302.5,182.4 305.1,179.8 306.8,184.1 308.5,179.8 312.0,175.5 314.6,172.0 316.3,169.4 318.1,172.0 319.8,167.7 322.4,158.1 325.0,164.2 327.6,165.1 331.1,171.1 332.8,166.8 335.4,152.9 338.0,156.4 339.7,140.8 342.9,119.0 345.3,133.5 347.3,132.3 349.7,150.4 352.6,160.1 355.7,140.8 358.1,128.7 359.8,116.6 361.8,128.7 364.2,145.6 366.6,157.7 369.0,168.5 371.4,167.3 372.6,148.0 373.6,89.0 374.6,138.3 376.3,167.3 378.7,148.0 380.6,162.5 382.3,160.1 384.7,162.5 387.1,167.3 389.5,164.9 393.2,163.7 395.6,160.1 398.0,174.6 400.4,184.3 402.1,191.5 404.0,179.4 406.5,167.3 408.9,172.2 411.3,171.0 413.7,172.2 415.0,158.9 416.1,160.1 417.4,169.8 419.8,138.3 422.3,113.0 424.7,115.4 427.1,113.0 429.5,121.4 431.9,126.3 434.3,131.1 436.8,121.4 439.2,114.2 441.6,116.6 444.0,114.2 446.4,135.9 448.4,157.7 450.0,154.0 452.5,150.4 454.9,145.6 457.3,149.2 459.7,133.5 460.9,130.7 462.5,100.0 464.0,79.7 465.3,62.3 467.1,80.6 467.5,83.8 469.2,100.0 470.0,135.0 471.8,155.3 474.2,177.0 476.6,181.8 479.0,179.4 481.5,183.0 482.5,189.1 483.6,172.2 486.0,163.0 488.5,167.3 490.9,164.9 493.3,157.7 495.7,145.6 498.3,133.5 500.5,121.4 503.0,105.0 505.0,88.0 507.1,64.6 510.5,50.5 512.8,80.5 515.0,135.0 516.2,145.6 518.2,172.2 521.1,177.0 523.5,184.3 525.9,186.7 528.3,191.5 530.7,186.7 533.2,189.1 535.6,184.3 537.5,181.8" fill="none" stroke="#4646ff" stroke-width="1.05" stroke-linejoin="round"/>
<rect x="506" y="43" width="1.8" height="13.6" fill="#333"/>
<text x="290.5" y="205.2" text-anchor="middle" font-family="'Liberation Sans', sans-serif" font-size="8.3" fill="#2a2a2a">600</text>
<text x="331.7" y="205.2" text-anchor="middle" font-family="'Liberation Sans', sans-serif" font-size="8.3" fill="#2a2a2a">800</text>
<text x="372.8" y="205.2" text-anchor="middle" font-family="'Liberation Sans', sans-serif" font-size="8.3" fill="#2a2a2a">1000</text>
<text x="414.0" y="205.2" text-anchor="middle" font-family="'Liberation Sans', sans-serif" font-size="8.3" fill="#2a2a2a">1200</text>
<text x="455.1" y="205.2" text-anchor="middle" font-family="'Liberation Sans', sans-serif" font-size="8.3" fill="#2a2a2a">1400</text>
<text x="496.3" y="205.2" text-anchor="middle" font-family="'Liberation Sans', sans-serif" font-size="8.3" fill="#2a2a2a">1600</text>
<text x="537.5" y="205.2" text-anchor="middle" font-family="'Liberation Sans', sans-serif" font-size="8.3" fill="#2a2a2a">1800</text>
<text x="414.6" y="215.8" text-anchor="middle" font-family="'Liberation Sans', sans-serif" font-size="8" fill="#222">Wavenumbers (cm<tspan font-size="5.5" dy="-3"> −1</tspan><tspan dy="3">)</tspan></text>
<text x="298.5" y="37.9" font-family="'Liberation Sans', sans-serif" font-size="25" fill="#050505">E</text>
<text transform="translate(346.4,113.7) rotate(-90)" font-family="'Liberation Sans', sans-serif" font-size="8.4" fill="#1a1a1a" stroke="#1a1a1a" stroke-width="0.3">858</text>
<text transform="translate(362.0,110.4) rotate(-90)" font-family="'Liberation Sans', sans-serif" font-size="8.4" fill="#1a1a1a" stroke="#1a1a1a" stroke-width="0.3">930</text>
<text transform="translate(377.2,87.5) rotate(-90)" font-family="'Liberation Sans', sans-serif" font-size="8.4" fill="#1a1a1a" stroke="#1a1a1a" stroke-width="0.3">1003</text>
<text transform="translate(391.6,139.1) rotate(-90)" font-family="'Liberation Sans', sans-serif" font-size="8.4" fill="#1a1a1a" stroke="#1a1a1a" stroke-width="0.3">1076</text>
<text transform="translate(426.8,106.1) rotate(-90)" font-family="'Liberation Sans', sans-serif" font-size="8.4" fill="#1a1a1a" stroke="#1a1a1a" stroke-width="0.3">1250</text>
<text transform="translate(439.0,108.7) rotate(-90)" font-family="'Liberation Sans', sans-serif" font-size="8.4" fill="#1a1a1a" stroke="#1a1a1a" stroke-width="0.3">1308</text>
<text transform="translate(469.3,36.5) rotate(-90)" font-family="'Liberation Sans', sans-serif" font-size="8.4" fill="#1a1a1a" stroke="#1a1a1a" stroke-width="0.3">1452</text>
<text transform="translate(510.0,38.6) rotate(-90)" font-family="'Liberation Sans', sans-serif" font-size="8.4" fill="#1a1a1a" stroke="#1a1a1a" stroke-width="0.3">1653</text>
</g>
<g id="F">
<rect x="12.4" y="229.8" width="251.1" height="181.39999999999998" fill="#fff" stroke="#2a2a2a" stroke-width="1.4"/>
<path d="M13.1,403.8 C13.6,402.4 15.5,397.1 16.3,395.4 C17.1,393.7 17.3,393.2 18.0,393.7 C18.7,394.2 19.6,396.8 20.5,398.5 C21.4,400.2 22.6,403.6 23.6,403.8 C24.7,404.0 25.8,400.7 26.8,399.6 C27.9,398.6 28.9,397.3 29.9,397.5 C30.9,397.7 31.9,400.2 33.0,400.6 C34.0,401.0 35.2,400.3 36.2,399.6 C37.2,398.9 38.2,396.6 39.3,396.4 C40.3,396.2 41.5,398.7 42.5,398.5 C43.5,398.3 44.6,395.8 45.6,395.4 C46.6,394.9 47.7,394.9 48.7,395.8 C49.8,396.7 50.9,399.1 51.9,400.6 C52.9,402.1 54.1,404.6 55.0,404.8 C55.9,405.0 56.4,404.0 57.1,401.7 C57.8,399.4 58.3,394.2 59.2,391.2 C60.1,388.2 61.4,387.4 62.4,383.9 C63.4,380.4 64.5,373.8 65.5,370.3 C66.5,366.8 67.3,363.2 68.2,362.9 C69.1,362.5 69.8,366.1 70.7,368.2 C71.7,370.3 72.9,373.6 73.9,375.5 C75.0,377.4 76.0,380.2 77.0,379.7 C78.0,379.2 79.2,375.0 80.2,372.4 C81.2,369.8 82.3,364.5 83.3,364.0 C84.3,363.5 85.4,366.9 86.4,369.2 C87.5,371.5 88.6,374.3 89.6,377.6 C90.5,380.9 91.2,386.6 92.1,389.2 C92.9,391.8 94.0,394.3 94.7,393.0 C95.4,391.7 95.9,385.3 96.5,381.5 C97.1,377.7 97.6,371.4 98.2,370.1 C98.8,368.8 99.6,372.0 100.3,373.9 C101.0,375.8 101.5,381.3 102.3,381.5 C103.1,381.7 103.8,377.3 104.9,375.2 C106.1,373.1 107.9,370.7 109.2,368.8 C110.5,366.9 111.8,364.9 113.0,363.7 C114.2,362.5 115.0,361.3 116.1,361.7 C117.2,362.1 118.2,363.8 119.4,366.2 C120.6,368.6 122.1,372.1 123.2,376.4 C124.3,380.6 124.9,387.7 125.8,391.7 C126.7,395.7 127.3,398.9 128.3,400.6 C129.4,402.3 130.8,401.2 132.1,401.9 C133.4,402.5 134.7,404.7 136.0,404.5 C137.3,404.3 138.8,404.0 139.8,400.6 C140.9,397.2 141.5,390.0 142.3,384.1 C143.1,378.2 143.9,369.4 144.5,365.0 C145.1,360.6 145.3,361.3 146.0,358.0 C146.7,354.7 147.8,348.4 148.8,345.1 C149.8,341.8 151.3,339.7 152.2,338.3 C153.1,336.9 153.5,336.7 154.2,336.6 C154.9,336.5 155.5,337.7 156.3,337.6 C157.1,337.5 158.2,336.2 159.0,336.2 C159.8,336.2 160.4,337.0 161.1,337.6 C161.8,338.2 162.4,338.8 163.1,340.0 C163.8,341.2 164.5,342.9 165.2,345.0 C165.9,347.1 166.6,348.5 167.4,352.5 C168.2,356.5 169.1,362.9 170.2,369.0 C171.3,375.1 172.8,383.9 174.0,389.2 C175.2,394.5 176.2,399.8 177.3,400.6 C178.4,401.5 179.5,398.3 180.4,394.3 C181.3,390.3 182.1,383.6 182.9,376.4 C183.8,369.2 184.7,361.2 185.5,351.0 C186.3,340.8 186.7,330.1 187.5,315.3 C188.3,300.6 189.5,263.4 190.4,262.5 C191.3,261.6 192.5,297.4 193.2,310.0 C193.9,322.6 193.8,325.8 194.4,338.2 C195.0,350.6 196.1,373.1 196.9,384.1 C197.8,395.2 198.7,400.7 199.5,404.5 C200.3,408.3 201.2,407.4 202.0,407.0 C202.8,406.6 203.5,402.5 204.6,401.9 C205.7,401.3 207.3,402.8 208.4,403.2 C209.5,403.6 209.9,403.9 211.0,404.0 C212.1,404.1 213.8,405.5 215.0,403.5 C216.2,401.5 216.9,395.4 217.9,391.9 C218.9,388.3 219.8,384.8 220.8,382.2 C221.8,379.6 222.7,378.6 223.7,376.4 C224.7,374.1 225.6,373.2 226.6,368.7 C227.6,364.2 228.7,355.1 229.5,349.3 C230.3,343.5 230.8,339.6 231.4,333.9 C232.1,328.2 232.7,315.8 233.4,315.2 C234.1,314.6 234.8,324.3 235.5,330.0 C236.2,335.7 237.0,342.2 237.8,349.3 C238.6,356.4 239.3,365.2 240.1,372.6 C240.9,380.0 241.8,388.5 242.5,393.8 C243.2,399.1 243.8,403.4 244.4,404.5 C245.0,405.6 245.7,401.1 246.3,400.6 C247.0,400.1 247.7,401.0 248.3,401.6 C249.0,402.2 249.5,404.4 250.2,404.5 C250.9,404.6 251.8,402.4 252.7,402.5 C253.6,402.6 254.6,405.3 255.6,405.4 C256.6,405.5 257.5,403.2 258.5,403.1 C259.5,403.0 260.6,403.9 261.4,404.5 C262.1,405.1 262.7,406.1 263.0,406.4" fill="none" stroke="#ff4d4d" stroke-width="1.15" stroke-linejoin="round"/>
<polyline points="13.1,403.8 16.3,404.8 18.8,400.6 21.5,408.0 23.6,399.6 25.7,405.9 28.8,404.8 33.0,408.0 36.2,402.7 39.3,395.4 42.5,399.6 45.6,396.4 47.7,392.2 50.8,399.6 54.0,403.8 56.1,403.8 59.2,389.1 62.4,384.9 64.9,380.7 67.6,357.7 69.7,368.2 71.2,378.6 73.9,375.5 78.1,386.0 81.2,374.5 84.3,357.7 86.4,364.0 89.6,380.7 92.6,394.3 95.2,396.8 97.0,376.4 97.7,366.2 98.2,313.0 99.0,368.8 100.8,389.2 102.3,396.8 104.1,376.4 106.7,384.1 109.2,381.5 111.8,384.1 114.3,376.4 116.8,379.0 119.4,384.1 121.9,379.0 124.5,389.2 125.8,401.9 127.0,408.3 129.6,396.8 132.1,403.2 134.7,396.8 137.2,404.5 139.8,384.1 142.3,391.7 144.9,366.2 146.7,354.7 148.8,346.5 150.8,343.8 152.9,339.6 154.9,343.8 157.0,345.1 159.0,341.0 161.1,339.0 162.4,342.4 163.8,336.2 165.2,343.8 166.5,336.9 167.6,335.8 168.6,345.1 170.2,351.0 172.7,371.3 174.0,384.1 176.6,381.5 180.4,376.4 182.9,363.7 185.5,348.4 187.5,325.5 190.4,265.6 193.2,310.0 194.4,335.7 196.9,384.1 199.5,405.7 201.3,408.3 203.3,403.2 205.9,400.6 208.4,401.9 211.0,391.7 213.5,389.2 215.5,382.0 217.9,374.5 219.3,370.6 220.8,359.0 222.4,341.6 223.7,337.7 225.5,325.0 227.0,315.0 228.0,310.0 229.8,284.7 233.5,240.0 236.6,284.7 238.4,310.0 239.2,330.0 241.1,359.0 243.0,384.2 245.0,393.8 247.9,401.6 250.8,405.4 253.7,408.3 256.6,409.7 259.5,409.3 262.4,409.7" fill="none" stroke="#4646ff" stroke-width="1.05" stroke-linejoin="round"/>

<text x="14.9" y="420.7" text-anchor="middle" font-family="'Liberation Sans', sans-serif" font-size="8.3" fill="#2a2a2a">600</text>
<text x="56.1" y="420.7" text-anchor="middle" font-family="'Liberation Sans', sans-serif" font-size="8.3" fill="#2a2a2a">800</text>
<text x="97.2" y="420.7" text-anchor="middle" font-family="'Liberation Sans', sans-serif" font-size="8.3" fill="#2a2a2a">1000</text>
<text x="138.4" y="420.7" text-anchor="middle" font-family="'Liberation Sans', sans-serif" font-size="8.3" fill="#2a2a2a">1200</text>
<text x="179.5" y="420.7" text-anchor="middle" font-family="'Liberation Sans', sans-serif" font-size="8.3" fill="#2a2a2a">1400</text>
<text x="220.7" y="420.7" text-anchor="middle" font-family="'Liberation Sans', sans-serif" font-size="8.3" fill="#2a2a2a">1600</text>
<text x="261.9" y="420.7" text-anchor="middle" font-family="'Liberation Sans', sans-serif" font-size="8.3" fill="#2a2a2a">1800</text>
<text x="137.9" y="432.2" text-anchor="middle" font-family="'Liberation Sans', sans-serif" font-size="8" fill="#222">Wavenumbers (cm<tspan font-size="5.5" dy="-3"> −1</tspan><tspan dy="3">)</tspan></text>
<text x="20.6" y="256.5" font-family="'Liberation Sans', sans-serif" font-size="25" fill="#050505">F</text>
<text transform="translate(71.2,354.4) rotate(-90)" font-family="'Liberation Sans', sans-serif" font-size="8.4" fill="#1a1a1a" stroke="#1a1a1a" stroke-width="0.3">859</text>
<text transform="translate(87.5,354.4) rotate(-90)" font-family="'Liberation Sans', sans-serif" font-size="8.4" fill="#1a1a1a" stroke="#1a1a1a" stroke-width="0.3">939</text>
<text transform="translate(101.5,308.9) rotate(-90)" font-family="'Liberation Sans', sans-serif" font-size="8.4" fill="#1a1a1a" stroke="#1a1a1a" stroke-width="0.3">1004</text>
<text transform="translate(120.1,357.2) rotate(-90)" font-family="'Liberation Sans', sans-serif" font-size="8.4" fill="#1a1a1a" stroke="#1a1a1a" stroke-width="0.3">1091</text>
<text transform="translate(162.3,331.0) rotate(-90)" font-family="'Liberation Sans', sans-serif" font-size="8.4" fill="#1a1a1a" stroke="#1a1a1a" stroke-width="0.3">1298</text>
<text transform="translate(194.0,257.3) rotate(-90)" font-family="'Liberation Sans', sans-serif" font-size="8.4" fill="#1a1a1a" stroke="#1a1a1a" stroke-width="0.3">1451</text>
<text transform="translate(236.6,314.4) rotate(-90)" font-family="'Liberation Sans', sans-serif" font-size="8.4" fill="#1a1a1a" stroke="#1a1a1a" stroke-width="0.3">1661</text>
</g>
<g id="G">
<rect x="286.7" y="229.6" width="249.8" height="181.50000000000003" fill="#fff" stroke="#2a2a2a" stroke-width="1.4"/>
<path d="M287.1,405.9 C287.6,405.2 289.1,402.2 290.2,401.7 C291.2,401.2 292.3,402.0 293.4,402.7 C294.4,403.4 295.4,405.7 296.5,405.9 C297.6,406.1 298.5,403.8 299.7,403.8 C300.9,403.8 302.4,406.2 303.8,405.9 C305.2,405.5 306.8,402.0 308.0,401.7 C309.2,401.4 310.1,403.6 311.2,403.8 C312.2,404.0 313.1,403.5 314.3,402.7 C315.5,401.9 317.3,399.5 318.5,399.2 C319.7,398.9 320.6,399.7 321.6,400.6 C322.7,401.5 323.8,403.6 324.8,404.8 C325.9,406.0 327.0,408.2 327.9,408.0 C328.8,407.8 329.1,406.2 330.0,403.8 C330.9,401.4 332.1,396.5 333.2,393.3 C334.2,390.1 335.3,388.9 336.3,384.9 C337.3,380.9 338.1,373.7 339.0,369.2 C339.9,364.7 341.1,358.9 342.0,357.7 C342.9,356.5 343.7,359.1 344.7,361.9 C345.7,364.7 346.9,370.7 347.8,374.5 C348.7,378.3 349.4,383.9 350.3,384.9 C351.2,385.9 352.3,383.0 353.1,380.7 C353.9,378.4 354.5,373.3 355.2,371.3 C355.9,369.3 356.4,367.7 357.3,368.6 C358.2,369.5 359.5,374.6 360.4,376.5 C361.3,378.4 361.7,378.8 362.5,380.3 C363.3,381.8 364.2,383.5 365.1,385.4 C366.0,387.3 366.8,390.2 367.6,391.7 C368.5,393.2 369.4,394.5 370.2,394.3 C371.0,394.1 371.8,390.8 372.7,390.4 C373.6,390.0 374.2,392.6 375.3,392.2 C376.4,391.8 377.8,390.5 379.1,387.9 C380.4,385.3 381.8,380.9 382.9,376.4 C384.0,371.9 384.6,365.1 385.5,361.1 C386.4,357.1 387.1,352.8 388.0,352.2 C388.9,351.6 389.8,352.8 390.6,357.3 C391.5,361.8 392.2,373.5 393.1,379.0 C394.0,384.5 394.9,387.0 395.7,390.4 C396.5,393.8 397.3,397.1 398.2,399.4 C399.1,401.6 399.7,403.0 400.8,403.9 C401.9,404.8 403.3,404.2 404.6,404.5 C405.9,404.8 407.1,405.7 408.4,405.7 C409.7,405.7 410.9,405.1 412.2,404.5 C413.5,403.9 415.0,404.0 416.1,401.9 C417.2,399.8 417.8,396.8 418.6,391.7 C419.4,386.6 420.2,377.4 421.1,371.3 C422.0,365.2 422.9,358.5 423.7,354.8 C424.5,351.1 425.3,349.1 426.2,348.9 C427.1,348.7 427.9,354.9 428.8,353.5 C429.7,352.1 430.4,346.4 431.3,340.8 C432.2,335.2 433.4,321.1 434.2,319.8 C435.0,318.5 435.6,325.4 436.4,333.1 C437.2,340.8 438.4,359.4 439.0,366.2 C439.6,373.0 439.3,369.6 440.1,373.9 C440.9,378.1 442.6,387.2 443.9,391.7 C445.2,396.1 446.4,398.5 447.7,400.6 C449.0,402.7 450.5,404.1 451.6,404.5 C452.7,404.9 453.2,406.2 454.1,403.2 C455.0,400.2 456.0,394.5 456.7,386.6 C457.4,378.8 457.8,368.0 458.4,356.1 C458.9,344.2 459.2,332.6 460.0,315.3 C460.8,298.0 462.3,250.6 463.4,252.3 C464.5,254.0 465.9,306.9 466.8,325.5 C467.7,344.1 468.0,352.2 468.6,363.7 C469.2,375.2 469.9,387.7 470.7,394.3 C471.5,400.9 472.3,401.3 473.2,403.2 C474.1,405.1 474.7,405.6 475.8,405.7 C476.9,405.8 478.6,404.5 479.6,403.9 C480.7,403.3 481.2,401.8 482.1,401.9 C483.0,402.0 483.6,403.6 484.7,404.5 C485.8,405.4 487.2,406.6 488.5,407.0 C489.8,407.4 491.2,408.1 492.3,407.0 C493.4,405.9 493.8,404.0 494.9,400.6 C496.0,397.2 497.4,391.5 498.7,386.6 C500.0,381.7 501.4,378.1 502.5,371.3 C503.6,364.5 504.4,353.5 505.1,345.9 C505.8,338.3 506.2,324.8 506.8,325.5 C507.4,326.2 508.4,341.9 509.0,350.0 C509.6,358.1 509.9,367.1 510.5,374.0 C511.1,380.9 511.9,386.4 512.7,391.3 C513.5,396.2 514.4,400.4 515.3,403.2 C516.1,406.0 516.9,407.7 517.8,408.4 C518.6,409.1 519.5,408.6 520.4,407.5 C521.2,406.4 522.1,403.0 522.9,401.5 C523.7,400.0 524.5,398.8 525.2,398.5 C525.9,398.2 526.4,398.6 527.2,399.8 C528.0,401.0 529.1,404.4 529.8,405.8 C530.5,407.2 530.8,408.1 531.5,408.4 C532.2,408.7 533.4,407.4 534.1,407.5 C534.8,407.6 535.5,408.9 535.8,409.2" fill="none" stroke="#ff4d4d" stroke-width="1.15" stroke-linejoin="round"/>
<polyline points="287.1,405.9 291.3,404.8 294.4,405.9 297.6,403.4 300.7,405.9 303.8,404.8 308.0,405.4 311.2,404.8 314.3,401.7 317.5,405.9 320.6,404.8 322.7,408.0 325.8,410.5 329.0,409.0 332.1,401.7 335.3,391.2 338.4,382.8 341.1,375.5 343.6,379.7 346.8,383.9 349.9,378.6 353.1,381.8 356.2,383.9 359.3,388.1 362.5,392.3 364.6,391.2 366.4,390.4 368.9,395.5 371.5,391.7 372.7,373.9 374.0,390.4 376.6,387.9 380.4,385.4 384.2,367.5 386.8,363.7 388.5,359.9 390.6,367.5 393.1,382.8 395.7,377.7 397.7,376.4 399.5,386.6 402.0,398.1 404.6,396.8 407.1,403.2 409.7,405.7 412.2,403.2 414.8,404.5 417.3,400.6 419.9,394.3 422.4,376.4 425.0,366.2 427.5,363.7 430.1,368.8 432.1,348.4 434.4,320.4 436.4,335.7 437.5,358.6 440.1,376.4 442.6,380.3 445.2,386.6 449.0,390.4 451.6,396.8 454.1,394.3 456.7,381.5 458.4,351.0 460.6,310.0 462.4,254.2 465.5,300.0 466.8,330.6 469.4,376.4 471.9,398.1 474.5,404.5 477.0,405.7 479.6,401.9 482.1,405.7 486.0,407.0 489.8,408.3 493.6,407.0 497.4,407.0 500.0,403.2 502.5,399.4 504.3,376.4 505.8,338.2 506.8,321.7 508.4,338.2 510.2,376.4 511.3,395.0 513.5,409.2 517.0,410.1 519.5,408.4 522.1,401.5 524.1,393.0 525.5,389.2 527.2,394.7 528.9,406.7 530.3,410.1 531.5,407.5 534.1,407.5 535.8,408.4" fill="none" stroke="#4646ff" stroke-width="1.05" stroke-linejoin="round"/>

<text x="288.4" y="420.9" text-anchor="middle" font-family="'Liberation Sans', sans-serif" font-size="8.3" fill="#2a2a2a">600</text>
<text x="329.5" y="420.9" text-anchor="middle" font-family="'Liberation Sans', sans-serif" font-size="8.3" fill="#2a2a2a">800</text>
<text x="370.7" y="420.9" text-anchor="middle" font-family="'Liberation Sans', sans-serif" font-size="8.3" fill="#2a2a2a">1000</text>
<text x="411.8" y="420.9" text-anchor="middle" font-family="'Liberation Sans', sans-serif" font-size="8.3" fill="#2a2a2a">1200</text>
<text x="453.0" y="420.9" text-anchor="middle" font-family="'Liberation Sans', sans-serif" font-size="8.3" fill="#2a2a2a">1400</text>
<text x="494.1" y="420.9" text-anchor="middle" font-family="'Liberation Sans', sans-serif" font-size="8.3" fill="#2a2a2a">1600</text>
<text x="535.2" y="420.9" text-anchor="middle" font-family="'Liberation Sans', sans-serif" font-size="8.3" fill="#2a2a2a">1800</text>
<text x="411.6" y="432.1" text-anchor="middle" font-family="'Liberation Sans', sans-serif" font-size="8" fill="#222">Wavenumbers (cm<tspan font-size="5.5" dy="-3"> −1</tspan><tspan dy="3">)</tspan></text>
<text x="293.6" y="256" font-family="'Liberation Sans', sans-serif" font-size="25.5" fill="#050505">G</text>
<text transform="translate(346.4,354.8) rotate(-90)" font-family="'Liberation Sans', sans-serif" font-size="8.4" fill="#1a1a1a" stroke="#1a1a1a" stroke-width="0.3">860</text>
<text transform="translate(360.7,364.9) rotate(-90)" font-family="'Liberation Sans', sans-serif" font-size="8.4" fill="#1a1a1a" stroke="#1a1a1a" stroke-width="0.3">928</text>
<text transform="translate(376.4,369.7) rotate(-90)" font-family="'Liberation Sans', sans-serif" font-size="8.4" fill="#1a1a1a" stroke="#1a1a1a" stroke-width="0.3">1005</text>
<text transform="translate(391.4,349.3) rotate(-90)" font-family="'Liberation Sans', sans-serif" font-size="8.4" fill="#1a1a1a" stroke="#1a1a1a" stroke-width="0.3">1077</text>
<text transform="translate(429.9,346.8) rotate(-90)" font-family="'Liberation Sans', sans-serif" font-size="8.4" fill="#1a1a1a" stroke="#1a1a1a" stroke-width="0.3">1269</text>
<text transform="translate(437.7,316.2) rotate(-90)" font-family="'Liberation Sans', sans-serif" font-size="8.4" fill="#1a1a1a" stroke="#1a1a1a" stroke-width="0.3">1304</text>
<text transform="translate(466.5,252.3) rotate(-90)" font-family="'Liberation Sans', sans-serif" font-size="8.4" fill="#1a1a1a" stroke="#1a1a1a" stroke-width="0.3">1446</text>
<text transform="translate(511.3,316.2) rotate(-90)" font-family="'Liberation Sans', sans-serif" font-size="8.4" fill="#1a1a1a" stroke="#1a1a1a" stroke-width="0.3">1655</text>
<text transform="translate(529.2,385.7) rotate(-90)" font-family="'Liberation Sans', sans-serif" font-size="8.4" fill="#1a1a1a" stroke="#1a1a1a" stroke-width="0.3">1744</text>
</g>
</svg>
</body></html>
